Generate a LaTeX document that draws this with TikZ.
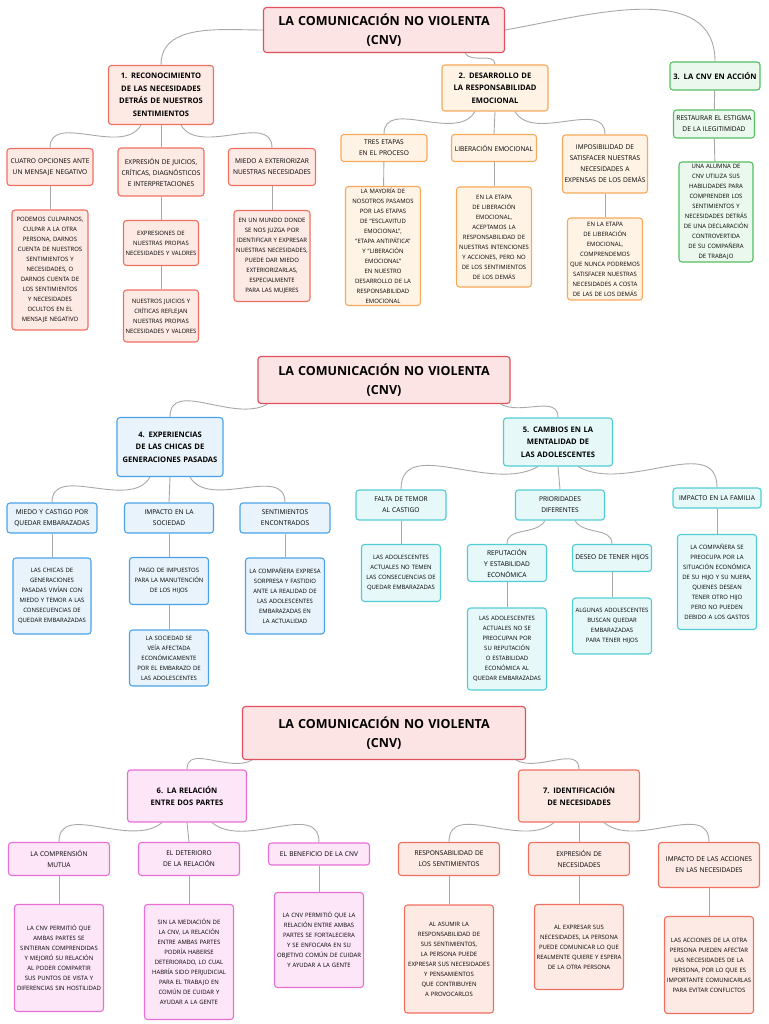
\documentclass[tikz,border=0pt]{standalone}
\usepackage{fontspec}
\setmainfont{Open Sans}
\hyphenpenalty=10000 \exhyphenpenalty=10000
\begin{document}
\begin{tikzpicture}[x=1pt,y=-1pt,
 base/.style={rounded corners=3pt,line width=1.1pt,align=center,inner xsep=2pt,inner ysep=0pt},
 ttl/.style={base,font=\fontsize{12.5}{19}\selectfont\bfseries},
 brn/.style={base,font=\fontsize{7.6}{12.5}\selectfont\bfseries},
 chd/.style={base,font=\fontsize{6.6}{11}\selectfont},
 gch/.style={base,font=\fontsize{5.95}{10}\selectfont},
 red/.style={draw=redD,fill=redL},
 org/.style={draw=orgD,fill=orgL},
 grn/.style={draw=grnD,fill=grnL},
 blu/.style={draw=bluD,fill=bluL},
 cya/.style={draw=cyaD,fill=cyaL},
 pnk/.style={draw=pnkD,fill=pnkL},
 sal/.style={draw=salD,fill=salL},
 con/.style={draw=lineC,line width=0.9pt}]
\definecolor{redD}{HTML}{E0505A}\definecolor{redL}{HTML}{FDE4E4}
\definecolor{salD}{HTML}{F07060}\definecolor{salL}{HTML}{FDEAE4}
\definecolor{orgD}{HTML}{F7A95A}\definecolor{orgL}{HTML}{FFF3E6}
\definecolor{grnD}{HTML}{55BF62}\definecolor{grnL}{HTML}{EBF8ED}
\definecolor{bluD}{HTML}{4AA3E8}\definecolor{bluL}{HTML}{E9F3FC}
\definecolor{cyaD}{HTML}{52CDD3}\definecolor{cyaL}{HTML}{E7F8F9}
\definecolor{pnkD}{HTML}{E86FD6}\definecolor{pnkL}{HTML}{FCE6F8}
\definecolor{lineC}{HTML}{A8A8A8}
\useasboundingbox[fill=white] (0,0) rectangle (768,1024);
\newcommand\bx[7]{\node[#6,text width=#4-5pt,minimum height=#5] (#1) at (#2,#3) {#7};}
% ===== Section 1 =====
\bx{t1}{384}{30}{242}{45}{ttl,red}{LA COMUNICACIÓN NO VIOLENTA\\(CNV)}
\bx{b1}{161}{95}{106}{59}{brn,sal}{1. RECONOCIMIENTO DE LAS NECESIDADES DETRÁS DE NUESTROS SENTIMIENTOS}
\bx{b2}{495}{88}{107}{46}{brn,org}{2. DESARROLLO DE LA RESPONSABILIDAD EMOCIONAL}
\bx{b3}{715}{76}{91}{28}{brn,grn}{3. LA CNV EN ACCIÓN}
\bx{c11}{50}{167}{87}{37}{chd,sal}{CUATRO OPCIONES ANTE UN MENSAJE NEGATIVO}
\bx{c12}{161}{172}{87}{48}{chd,sal}{EXPRESIÓN DE JUICIOS, CRÍTICAS, DIAGNÓSTICOS E INTERPRETACIONES}
\bx{c13}{272}{167}{88}{37}{chd,sal}{MIEDO A EXTERIORIZAR NUESTRAS NECESIDADES}
\bx{g11}{50}{270}{77}{120}{gch,sal}{PODEMOS CULPARNOS, CULPAR A LA OTRA PERSONA, DARNOS CUENTA DE NUESTROS SENTIMIENTOS Y NECESIDADES, O DARNOS CUENTA DE LOS SENTIMIENTOS Y NECESIDADES OCULTOS EN EL MENSAJE NEGATIVO}
\bx{g12}{161}{243}{76}{45}{gch,sal}{EXPRESIONES DE NUESTRAS PROPIAS NECESIDADES Y VALORES}
\bx{g13}{161}{316}{76}{52}{gch,sal}{NUESTROS JUICIOS Y CRÍTICAS REFLEJAN NUESTRAS PROPIAS NECESIDADES Y VALORES}
\bx{g14}{272}{256}{77}{91}{gch,sal}{EN UN MUNDO DONDE SE NOS JUZGA POR IDENTIFICAR Y EXPRESAR NUESTRAS NECESIDADES, PUEDE DAR MIEDO EXTERIORIZARLAS, ESPECIALMENTE PARA LAS MUJERES}
\bx{c21}{384}{148}{87}{27}{chd,org}{TRES ETAPAS EN EL PROCESO}
\bx{c22}{494}{148}{86}{27}{chd,org}{LIBERACIÓN EMOCIONAL}
\bx{c23}{605}{164}{86}{58}{chd,org}{IMPOSIBILIDAD DE SATISFACER NUESTRAS NECESIDADES A EXPENSAS DE LOS DEMÁS}
\bx{g21}{383}{246}{76}{119}{gch,org}{LA MAYORÍA DE NOSOTROS PASAMOS POR LAS ETAPAS DE "ESCLAVITUD EMOCIONAL", "ETAPA ANTIPÁTICA" Y "LIBERACIÓN EMOCIONAL" EN NUESTRO DESARROLLO DE LA RESPONSABILIDAD EMOCIONAL}
\bx{g22}{494}{237}{76}{100}{gch,org}{EN LA ETAPA DE LIBERACIÓN EMOCIONAL, ACEPTAMOS LA RESPONSABILIDAD DE NUESTRAS INTENCIONES Y ACCIONES, PERO NO DE LOS SENTIMIENTOS DE LOS DEMÁS}
\bx{g23}{605}{259}{76}{82}{gch,org}{EN LA ETAPA DE LIBERACIÓN EMOCIONAL, COMPRENDEMOS QUE NUNCA PODREMOS SATISFACER NUESTRAS NECESIDADES A COSTA DE LAS DE LOS DEMÁS}
\bx{c31}{714}{124}{82}{28}{chd,grn}{RESTAURAR EL ESTIGMA DE LA ILEGITIMIDAD}
\bx{g31}{716}{212}{75}{100}{gch,grn}{UNA ALUMNA DE CNV UTILIZA SUS HABILIDADES PARA COMPRENDER LOS SENTIMIENTOS Y NECESIDADES DETRÁS DE UNA DECLARACIÓN CONTROVERTIDA DE SU COMPAÑERA DE TRABAJO}
% ===== Section 2 =====
\bx{t2}{384}{380}{253}{47}{ttl,red}{LA COMUNICACIÓN NO VIOLENTA\\(CNV)}
\bx{b4}{170}{447}{107}{59}{brn,blu}{4. EXPERIENCIAS DE LAS CHICAS DE GENERACIONES PASADAS}
\bx{b5}{558}{442}{110}{48}{brn,cya}{5. CAMBIOS EN LA MENTALIDAD DE LAS ADOLESCENTES}
\bx{c41}{52}{518}{91}{30}{chd,blu}{MIEDO Y CASTIGO POR QUEDAR EMBARAZADAS}
\bx{c42}{169}{518}{90}{30}{chd,blu}{IMPACTO EN LA\\SOCIEDAD}
\bx{c43}{285}{518}{91}{30}{chd,blu}{SENTIMIENTOS ENCONTRADOS}
\bx{g41}{52}{596}{79}{76}{gch,blu}{LAS CHICAS DE GENERACIONES PASADAS VIVÍAN CON MIEDO Y TEMOR A LAS CONSECUENCIAS DE QUEDAR EMBARAZADAS}
\bx{g42}{169}{581}{80}{47}{gch,blu}{PAGO DE IMPUESTOS PARA LA MANUTENCIÓN DE LOS HIJOS}
\bx{g43}{169}{658}{80}{56}{gch,blu}{LA SOCIEDAD SE VEÍA AFECTADA ECONÓMICAMENTE POR EL EMBARAZO DE LAS ADOLESCENTES}
\bx{g44}{285}{596}{80}{76}{gch,blu}{LA COMPAÑERA EXPRESA SORPRESA Y FASTIDIO ANTE LA REALIDAD DE LAS ADOLESCENTES EMBARAZADAS EN LA ACTUALIDAD}
\bx{c51}{401}{505}{91}{30}{chd,cya}{FALTA DE TEMOR AL CASTIGO}
\bx{c52}{560}{505}{90}{30}{chd,cya}{PRIORIDADES\\DIFERENTES}
\bx{c53}{717}{498}{89}{20}{chd,cya}{IMPACTO EN LA FAMILIA}
\bx{g51}{401}{573}{80}{57}{gch,cya}{LAS ADOLESCENTES ACTUALES NO TEMEN LAS CONSECUENCIAS DE QUEDAR EMBARAZADAS}
\bx{d51}{507}{563}{80}{37}{chd,cya}{REPUTACIÓN Y ESTABILIDAD ECONÓMICA}
\bx{d52}{612}{558}{80}{27}{chd,cya}{DESEO DE TENER HIJOS}
\bx{g52}{717}{582}{80}{95}{gch,cya}{LA COMPAÑERA SE PREOCUPA POR LA SITUACIÓN ECONÓMICA DE SU HIJO Y SU NUERA, QUIENES DESEAN TENER OTRO HIJO PERO NO PUEDEN DEBIDO A LOS GASTOS}
\bx{e51}{507}{649}{80}{82}{gch,cya}{LAS ADOLESCENTES ACTUALES NO SE PREOCUPAN POR SU REPUTACIÓN O ESTABILIDAD ECONÓMICA AL QUEDAR EMBARAZADAS}
\bx{e52}{612}{626}{80}{56}{gch,cya}{ALGUNAS ADOLESCENTES BUSCAN QUEDAR EMBARAZADAS PARA TENER HIJOS}
% ===== Section 3 =====
\bx{t3}{384}{733}{284}{53}{ttl,red}{LA COMUNICACIÓN NO VIOLENTA\\(CNV)}
\bx{b6}{187}{796}{120}{52}{brn,pnk}{6. LA RELACIÓN ENTRE DOS PARTES}
\bx{b7}{579}{796}{122}{52}{brn,sal}{7. IDENTIFICACIÓN DE NECESIDADES}
\bx{c61}{59}{859}{102}{33}{chd,pnk}{LA COMPRENSIÓN\\MUTUA}
\bx{c62}{189}{859}{102}{33}{chd,pnk}{EL DETERIORO DE LA RELACIÓN}
\bx{c63}{319}{854}{102}{22}{chd,pnk}{EL BENEFICIO DE LA CNV}
\bx{g61}{59}{958}{90}{107}{gch,pnk}{LA CNV PERMITIÓ QUE AMBAS PARTES SE SINTIERAN COMPRENDIDAS Y MEJORÓ SU RELACIÓN AL PODER COMPARTIR SUS PUNTOS DE VISTA Y DIFERENCIAS SIN HOSTILIDAD}
\bx{g62}{189}{962}{90}{115}{gch,pnk}{SIN LA MEDIACIÓN DE LA CNV, LA RELACIÓN ENTRE AMBAS PARTES PODRÍA HABERSE DETERIORADO, LO CUAL HABRÍA SIDO PERJUDICIAL PARA EL TRABAJO EN COMÚN DE CUIDAR Y AYUDAR A LA GENTE}
\bx{g63}{319}{940}{90}{95}{gch,pnk}{LA CNV PERMITIÓ QUE LA RELACIÓN ENTRE AMBAS PARTES SE FORTALECIERA Y SE ENFOCARA EN SU OBJETIVO COMÚN DE CUIDAR Y AYUDAR A LA GENTE}
\bx{c71}{449}{859}{102}{33}{chd,sal}{RESPONSABILIDAD DE LOS SENTIMIENTOS}
\bx{c72}{579}{859}{102}{33}{chd,sal}{EXPRESIÓN DE\\NECESIDADES}
\bx{c73}{709}{865}{102}{45}{chd,sal}{IMPACTO DE LAS ACCIONES EN LAS NECESIDADES}
\bx{g71}{449}{959}{90}{108}{gch,sal}{AL ASUMIR LA RESPONSABILIDAD DE SUS SENTIMIENTOS, LA PERSONA PUEDE EXPRESAR SUS NECESIDADES Y PENSAMIENTOS QUE CONTRIBUYEN A PROVOCARLOS}
\bx{g72}{579}{947}{90}{85}{gch,sal}{AL EXPRESAR SUS NECESIDADES, LA PERSONA PUEDE COMUNICAR LO QUE REALMENTE QUIERE Y ESPERA DE LA OTRA PERSONA}
\bx{g73}{709}{965}{90}{97}{gch,sal}{LAS ACCIONES DE LA OTRA PERSONA PUEDEN AFECTAR LAS NECESIDADES DE LA PERSONA, POR LO QUE ES IMPORTANTE COMUNICARLAS PARA EVITAR CONFLICTOS}
% ===== connectors =====
\draw[con] (t1.west) to[out=180,in=90] (b1.north);
\draw[con] (t1.south east) ++(-40,0) to[out=-60,in=90] (b2.north);
\draw[con] (t1.east) to[out=10,in=90] (b3.north);
\draw[con] (b1.south) ++(-20,0) to[out=-120,in=90] (c11.north);
\draw[con] (b1.south) -- (c12.north);
\draw[con] (b1.south) ++(20,0) to[out=-60,in=90] (c13.north);
\draw[con] (c11) -- (g11); \draw[con] (c12) -- (g12); \draw[con] (g12) -- (g13); \draw[con] (c13) -- (g14);
\draw[con] (b2.south) ++(-20,0) to[out=-120,in=90] (c21.north);
\draw[con] (b2.south) -- (c22.north);
\draw[con] (b2.south) ++(20,0) to[out=-60,in=90] (c23.north);
\draw[con] (c21) -- (g21); \draw[con] (c22) -- (g22); \draw[con] (c23) -- (g23);
\draw[con] (b3) -- (c31); \draw[con] (c31) -- (g31);
\draw[con] (t2.south west) ++(10,0) to[out=-150,in=90] (b4.north);
\draw[con] (t2.south east) ++(-10,0) to[out=-30,in=90] (b5.north);
\draw[con] (b4.south) ++(-20,0) to[out=-120,in=90] (c41.north);
\draw[con] (b4.south) -- (c42.north);
\draw[con] (b4.south) ++(20,0) to[out=-60,in=90] (c43.north);
\draw[con] (c41) -- (g41); \draw[con] (c42) -- (g42); \draw[con] (g42) -- (g43); \draw[con] (c43) -- (g44);
\draw[con] (b5.south) ++(-20,0) to[out=-150,in=90] (c51.north);
\draw[con] (b5.south) -- (c52.north);
\draw[con] (b5.south) ++(20,0) to[out=-30,in=90] (c53.north);
\draw[con] (c51) -- (g51); \draw[con] (c53) -- (g52);
\draw[con] (c52.south) ++(-15,0) to[out=-120,in=90] (d51.north);
\draw[con] (c52.south) ++(15,0) to[out=-60,in=90] (d52.north);
\draw[con] (d51) -- (e51); \draw[con] (d52) -- (e52);
\draw[con] (t3.south west) ++(10,0) to[out=-150,in=90] (b6.north);
\draw[con] (t3.south east) ++(-10,0) to[out=-30,in=90] (b7.north);
\draw[con] (b6.south) ++(-25,0) to[out=-140,in=90] (c61.north);
\draw[con] (b6.south) -- (c62.north);
\draw[con] (b6.south) ++(25,0) to[out=-40,in=90] (c63.north);
\draw[con] (c61) -- (g61); \draw[con] (c62) -- (g62); \draw[con] (c63) -- (g63);
\draw[con] (b7.south) ++(-25,0) to[out=-140,in=90] (c71.north);
\draw[con] (b7.south) -- (c72.north);
\draw[con] (b7.south) ++(25,0) to[out=-40,in=90] (c73.north);
\draw[con] (c71) -- (g71); \draw[con] (c72) -- (g72); \draw[con] (c73) -- (g73);
\end{tikzpicture}
\end{document}
